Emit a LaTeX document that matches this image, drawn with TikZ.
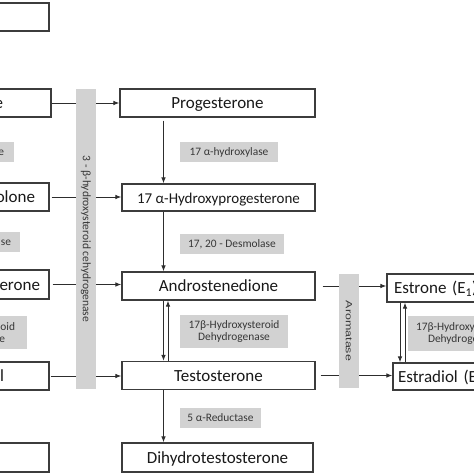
\documentclass[tikz,border=0pt]{standalone}
\usepackage{fontspec}
\setmainfont{Carlito}
\newfontfamily\arialf{Liberation Sans}
\usetikzlibrary{arrows.meta}
\definecolor{bordc}{RGB}{60,60,60}
\definecolor{txtc}{RGB}{25,25,25}
\definecolor{lblc}{RGB}{210,210,210}
\definecolor{lbltxt}{RGB}{55,55,55}
\definecolor{arrc}{RGB}{45,45,45}
\tikzset{
  box/.style={draw=bordc, line width=1.2pt, fill=white, inner sep=0pt,
    minimum height=28pt, text height=11pt, text depth=0pt,
    font=\fontsize{17}{20}\selectfont, text=txtc},
  lbl/.style={fill=lblc, inner sep=0pt, minimum height=20pt,
    font=\fontsize{11.4}{12}\selectfont, text=lbltxt},
  onel/.style={text height=7.5pt, text depth=0pt},
  bar/.style={fill=lblc, inner sep=0pt, minimum width=20pt,
    font=\fontsize{11.5}{13}\selectfont, text=lbltxt},
  arr/.style={draw=arrc, line width=0.9pt, -{Latex[length=6pt,width=4.5pt]}},
}
\begin{document}
\begin{tikzpicture}[x=1pt,y=-1pt]
\useasboundingbox (0,0) rectangle (474,474);
\fill[white] (0,0) rectangle (474,474);
\clip (0,0) rectangle (474,474);

% left column (cut off)
\node[box, minimum width=120pt] (chol) at (-11,17) {};
\node[box, minimum width=120pt, text width=24pt, inner xsep=48pt, align=right] (preg) at (-9,103) {e};
\node[box, minimum width=120pt, text width=92pt, inner xsep=14pt, align=right] (ohpreg) at (-11,197) {olone};
\node[box, minimum width=120pt, text width=102pt, inner xsep=9pt, align=right, minimum height=29pt] (dhea) at (-11,284.5) {erone};
\node[box, minimum width=120pt, text width=30pt, inner xsep=45pt, align=right] (adiol) at (-11,376) {ol};
\node[box, minimum width=120pt, minimum height=29pt] (blbox) at (-11,457.5) {};

\node[lbl, onel, minimum width=60pt, text width=40pt, inner xsep=10pt, align=right] (l1) at (-16,152) {e};
\node[lbl, onel, minimum width=60pt, text width=42pt, inner xsep=9pt, align=right] (l2) at (-10,242) {se};
\node[lbl, minimum width=116pt, minimum height=33pt, text width=92pt, inner xsep=12pt, align=right] (l3) at (-31,332.5) {oid\\se\hspace*{10pt}};

% centre column
\node[box, minimum width=195pt] (prog) at (217.5,103) {Progesterone};
\node[box, minimum width=193pt, minimum height=27pt, font=\fontsize{15}{18}\selectfont, text height=11.5pt] (ohp) at (218.5,197.5) {17 α-Hydroxyprogesterone};
\node[box, minimum width=193pt] (andro) at (218.5,286) {Androstenedione};
\node[box, minimum width=193pt] (testo) at (218.5,375.5) {Testosterone};
\node[box, minimum width=191pt, minimum height=29pt] (dht) at (217.5,457.5) {Dihydrotestosterone};

\node[lbl, onel, minimum width=98pt] (hyd) at (229,152) {17 α-hydroxylase};
\node[lbl, onel, minimum width=104pt] (des) at (232,244) {17, 20 - Desmolase};
\node[lbl, minimum width=108pt, minimum height=33pt, align=center] (hsd) at (234,331.5) {17β-Hydroxysteroid\\Dehydrogenase};
\node[lbl, onel, minimum width=81pt] (red) at (220.5,418) {5 α-Reductase};

% right column (cut off)
\node[box, minimum width=120pt, text width=106pt, inner xsep=7pt, align=left] (estrone) at (447,288) {Estrone (E\textsubscript{1})};
\node[box, minimum width=120pt, text width=110pt, inner xsep=5pt, align=left, minimum height=27pt] (estradiol) at (453,376.5) {Estradiol (E};
\node[lbl, minimum width=108pt, minimum height=35pt, text width=92pt, inner xsep=8pt, align=left] (hsd2) at (462,333.5) {17β-Hydroxy\\\hspace*{12pt}Dehydroge};

% helper coordinates for vertical connectors
\coordinate (va) at (163.5,0);
\coordinate (vb) at (168,0);
\coordinate (vc) at (400,0);
\coordinate (vd) at (405,0);

% horizontal connectors
\draw[arr] (preg.east) -- (preg.east -| prog.west);
\draw[arr, shorten <=2pt] (ohpreg.east) -- (ohpreg.east -| ohp.west);
\draw[arr, shorten <=3pt] (dhea.east) -- (dhea.east -| andro.west);
\draw[arr, shorten <=1pt] (adiol.east) -- (adiol.east -| testo.west);
\draw[arr, shorten <=7pt] (andro.east) -- (andro.east -| estrone.west);
\draw[arr, shorten <=5pt] (testo.east) -- (testo.east -| estradiol.west);

% vertical connectors
\draw[arr, shorten <=3pt] (prog.south -| va) -- (ohp.north -| va);
\draw[arr] (ohp.south -| va) -- (andro.north -| va);
\draw[arr] (andro.south -| va) -- (testo.north -| va);
\draw[arr] (testo.north -| vb) -- (andro.south -| vb);
\draw[arr] (testo.south -| va) -- (dht.north -| va);
\draw[arr] (estrone.south -| vc) -- (estradiol.north -| vc);
\draw[arr] (estradiol.north -| vd) -- (estrone.south -| vd);

% enzyme bars (over the connectors)
\node[bar, minimum height=300pt] (hsd3) at (86,239) {\rotatebox{-90}{3 - β-hydroxysteroid cehydrogenase}};
\node[bar, minimum height=114pt] (arom) at (349,331) {\rotatebox{-90}{\scalebox{1.38}[1]{\arialf\fontsize{9}{10}\selectfont Aromatase}}};
\end{tikzpicture}
\end{document}
